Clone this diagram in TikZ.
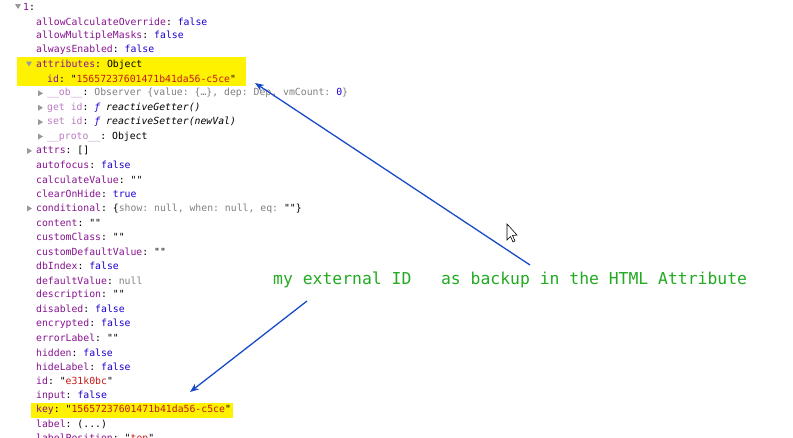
\documentclass[tikz,border=0pt]{standalone}
\usepackage{fontspec}
\setmonofont{DejaVu Sans Mono}
\usetikzlibrary{arrows.meta}
\definecolor{kc}{RGB}{136,19,145}
\definecolor{bc}{RGB}{28,0,207}
\definecolor{rc}{RGB}{196,26,22}
\definecolor{gc}{RGB}{128,128,128}
\definecolor{grn}{RGB}{34,170,34}
\definecolor{arr}{RGB}{25,75,200}
\newcommand{\K}[1]{\textcolor{kc}{#1}}
\newcommand{\B}[1]{\textcolor{bc}{#1}}
\newcommand{\R}[1]{"\textcolor{rc}{#1}"}
\newcommand{\G}[1]{\textcolor{gc}{#1}}
\tikzset{
 ln/.style={anchor=west,inner sep=0pt,font=\ttfamily\fontsize{9.8}{10}\selectfont},
 tri/.style={fill=gray!80,draw=none},
 hl/.style={fill=yellow,draw=none},
 callout/.style={draw=arr,line width=1.3pt,-{Stealth[length=9pt,width=7pt]}}
}
\begin{document}
\begin{tikzpicture}[x=1pt,y=-1pt]
\useasboundingbox (0,0) rectangle (793,437);
\clip (0,0) rectangle (793,437);
\fill[white] (0,0) rectangle (793,437);
\fill[hl] (17,57) rectangle (246,86);
\fill[hl] (31,403) rectangle (233,418);
\def\P{14.39}
\newcommand{\Y}[1]{7+#1*14.39}
\node[ln] (l0) at (23,{\Y{0}}) {\K{1}:};
\node[ln] (l1) at (36,{\Y{1}}) {\K{allowCalculateOverride}: \B{false}};
\node[ln] (l2) at (36,{\Y{2}}) {\K{allowMultipleMasks}: \B{false}};
\node[ln] (l3) at (36,{\Y{3}}) {\K{alwaysEnabled}: \B{false}};
\node[ln] (l4) at (36,{\Y{4}}) {\K{attributes}: Object};
\node[ln] (l5) at (47,{\Y{5}}) {\K{id}: \R{15657237601471b41da56-c5ce}};
\node[ln] (l6) at (47,{\Y{6}}) {\textcolor{kc!55}{\_\_ob\_\_}: \G{Observer \{value: \{…\}, dep: Dep, vmCount: \B{0}\}}};
\node[ln] (l7) at (47,{\Y{7}}) {\textcolor{kc!55}{get id}: \textit{\B{ƒ} reactiveGetter()}};
\node[ln] (l8) at (47,{\Y{8}}) {\textcolor{kc!55}{set id}: \textit{\B{ƒ} reactiveSetter(newVal)}};
\node[ln] (l9) at (47,{\Y{9}}) {\textcolor{kc!55}{\_\_proto\_\_}: Object};
\node[ln] (l10) at (36,{\Y{10}}) {\K{attrs}: []};
\node[ln] (l11) at (36,{\Y{11}}) {\K{autofocus}: \B{false}};
\node[ln] (l12) at (36,{\Y{12}}) {\K{calculateValue}: ""};
\node[ln] (l13) at (36,{\Y{13}}) {\K{clearOnHide}: \B{true}};
\node[ln] (l14) at (36,{\Y{14}}) {\K{conditional}: \{\G{show: null, when: null, eq: }"\textcolor{rc}{}"\}};
\node[ln] (l15) at (36,{\Y{15}}) {\K{content}: ""};
\node[ln] (l16) at (36,{\Y{16}}) {\K{customClass}: ""};
\node[ln] (l17) at (36,{\Y{17}}) {\K{customDefaultValue}: ""};
\node[ln] (l18) at (36,{\Y{18}}) {\K{dbIndex}: \B{false}};
\node[ln] (l19) at (36,{\Y{19}}) {\K{defaultValue}: \G{null}};
\node[ln] (l20) at (36,{\Y{20}}) {\K{description}: ""};
\node[ln] (l21) at (36,{\Y{21}}) {\K{disabled}: \B{false}};
\node[ln] (l22) at (36,{\Y{22}}) {\K{encrypted}: \B{false}};
\node[ln] (l23) at (36,{\Y{23}}) {\K{errorLabel}: ""};
\node[ln] (l24) at (36,{\Y{24}}) {\K{hidden}: \B{false}};
\node[ln] (l25) at (36,{\Y{25}}) {\K{hideLabel}: \B{false}};
\node[ln] (l26) at (36,{\Y{26}}) {\K{id}: \R{e31k0bc}};
\node[ln] (l27) at (36,{\Y{27}}) {\K{input}: \B{false}};
\node[ln] (l28) at (36,{\Y{28}}) {\K{key}: \R{15657237601471b41da56-c5ce}};
\node[ln] (l29) at (36,{\Y{29}}) {\K{label}: (...)};
\node[ln] (l30) at (36,{\Y{30}}) {\K{labelPosition}: \R{top}};
% triangles
\fill[tri] (15,{\Y{0}-3}) -- (21,{\Y{0}-3}) -- (18,{\Y{0}+2}) -- cycle;
\fill[tri] (26,{\Y{4}-3}) -- (32,{\Y{4}-3}) -- (29,{\Y{4}+2}) -- cycle;
\foreach \i in {6,7,8,9}{\fill[tri] (38,{\Y{\i}-3}) -- (43,{\Y{\i}}) -- (38,{\Y{\i}+3}) -- cycle;}
\foreach \i in {10,14}{\fill[tri] (27,{\Y{\i}-3}) -- (32,{\Y{\i}}) -- (27,{\Y{\i}+3}) -- cycle;}
% callout
\node[anchor=west,inner sep=0pt,text=grn,font=\ttfamily\fontsize{16.4}{18}\selectfont] (note) at (273,280) {my external ID\ \ \ as backup in the HTML Attribute};
\coordinate (s1) at (530,265);
\coordinate (s2) at (307,301);
\coordinate (t1) at (255,83);
\coordinate (t2) at (190,392);
\draw[callout] (s1) -- (t1);
\draw[callout] (s2) -- (t2);
% mouse cursor
\draw[fill=white,line width=0.6pt] (507,224) -- (507,240) -- (510.5,236.5) -- (513,242) -- (515,241) -- (512.5,235.5) -- (517,235) -- cycle;
\end{tikzpicture}
\end{document}
